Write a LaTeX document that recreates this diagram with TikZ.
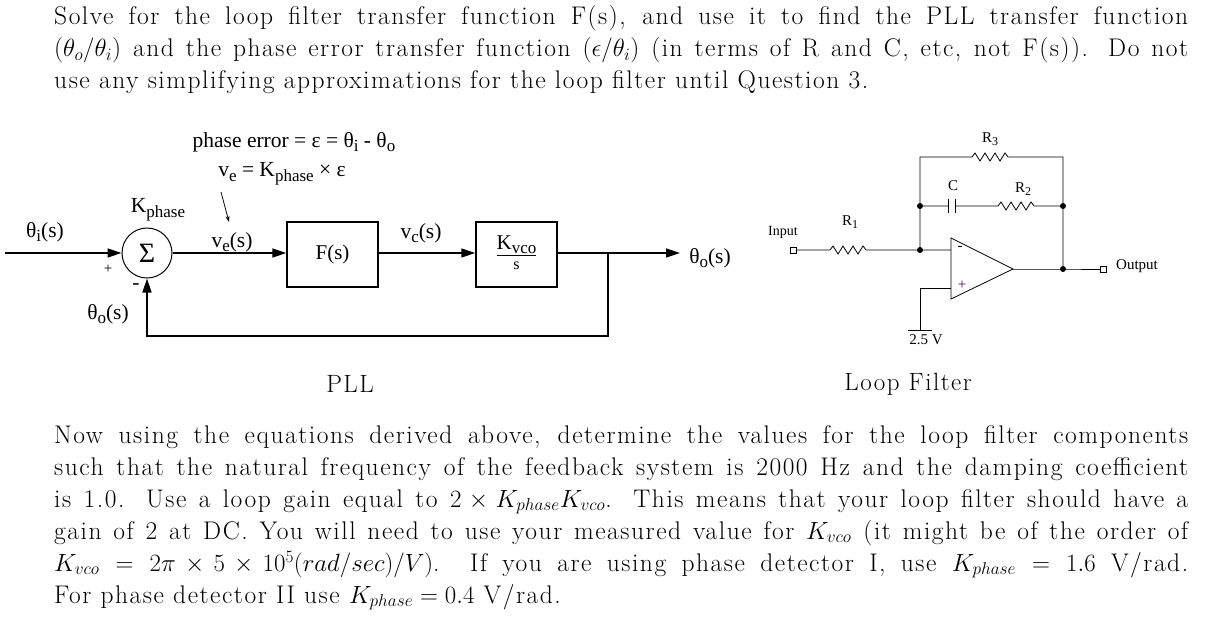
\documentclass[tikz,border=0pt]{standalone}
\usepackage{fontspec}
\newfontfamily\tms{Liberation Serif}
\newfontfamily\lmw{Latin Modern Roman}[LetterSpace=6]
\usetikzlibrary{arrows.meta}
\newcommand{\sbs}[1]{\raisebox{-4.5pt}{\fontsize{17}{17}\selectfont #1}}
\begin{document}
\begin{tikzpicture}[x=1pt,y=-1pt,
  lbl/.style={font=\tms\fontsize{21.5}{24}\selectfont,inner sep=0pt},
  sml/.style={font=\tms\fontsize{15}{18}\selectfont,inner sep=0pt},
  blk/.style={draw,line width=1.5pt,minimum width=91pt,minimum height=65pt,font=\tms\fontsize{21}{24}\selectfont},
  sig/.style={-{Triangle[length=14pt,width=9pt]},line width=1.5pt},
  wire/.style={line width=0.8pt},
  dot/.style={circle,fill,inner sep=0pt,minimum size=6pt},
  term/.style={draw,inner sep=0pt,minimum size=6pt,fill=white,line width=0.7pt},
  para/.style={text width=1134pt,align=justify,inner sep=0pt,anchor=north west,font=\lmw\fontsize{25.5}{32}\selectfont}]
\useasboundingbox (0,0) rectangle (1205,627);
% top paragraph
\node[para] (ptop) at (54,5) {Solve for the loop filter transfer function F(s), and use it to find the PLL transfer function\linebreak ($\theta_o/\theta_i$) and the phase error transfer function ($\epsilon/\theta_i$) (in terms of R and C, etc, not F(s)). Do not\linebreak use any simplifying approximations for the loop filter until Question 3.};
% PLL
\coordinate (in) at (5,253);
\node[draw,circle,line width=1pt,minimum size=50pt,inner sep=0pt,font=\tms\fontsize{28}{28}\selectfont] (sum) at (147,253) {Σ};
\node[blk] (F) at (332.5,254.5) {F(s)};
\node[blk,minimum width=81pt] (K) at (516.5,254.5) {\begin{tabular}{@{}c@{}}\underline{K\sbs{vco}}\\[-4pt]\fontsize{16}{16}\selectfont s\end{tabular}};
\coordinate (out) at (680,253);
\coordinate (fb1) at (608,253);
\coordinate (fb2) at (608,336);
\coordinate (fb3) at (147,336);
\draw[sig] (in) -- (sum);
\draw[sig] (sum) -- (F.west|-sum);
\draw[sig] (F.east|-sum) -- (K.west|-sum);
\draw[sig] (K.east|-sum) -- (out);
\draw[sig] (fb1) -- (fb2) -- (fb3) -- (sum.south);
\node[lbl] (ti) at (45,232) {θ\sbs{i}(s)};
\node[sml] (plus) at (108,269) {+};
\node[lbl] (minus) at (136,287) {-};
\node[lbl] (kp) at (158,210) {K\sbs{phase}};
\node[lbl] (ve) at (232,242) {v\sbs{e}(s)};
\node[lbl] (vc) at (421,233) {v\sbs{c}(s)};
\node[lbl] (to) at (710,258) {θ\sbs{o}(s)};
\node[lbl] (to2) at (108,314) {θ\sbs{o}(s)};
\node[lbl] (pe) at (294,142) {phase error = ε = θ\sbs{i} - θ\sbs{o}};
\node[lbl] (veq) at (282,174) {v\sbs{e} = K\sbs{phase} × ε};
\coordinate (a1) at (221,192);
\coordinate (a2) at (229,222);
\draw[-{Stealth[length=6pt,width=4pt]},wire] (a1) -- (a2);
\node[font=\lmw\fontsize{25}{26}\selectfont] (pll) at (350,384) {PLL};
\node[font=\lmw\fontsize{25}{26}\selectfont] (lf) at (908,384) {Loop Filter};
% Loop filter
\node[term] (inp) at (793,250) {};
\node[sml,font=\tms\fontsize{14}{16}\selectfont] (inl) at (783,232) {Input};
\coordinate (n1) at (920,250);
\coordinate (n2) at (920,206);
\coordinate (n3) at (920,157);
\coordinate (m3) at (1063,157);
\coordinate (m2) at (1063,206);
\coordinate (m1) at (1063,269);
\node[term] (outp) at (1103,269) {};
\node[sml,font=\tms\fontsize{15}{16}\selectfont,anchor=west] (outl) at (1116,266) {Output};
\coordinate (oa1) at (951,238);
\coordinate (oa2) at (951,299);
\coordinate (tip) at (1013,269);
\draw[wire] (oa1) -- (oa2) -- (tip) -- cycle;
\node[sml] (om) at (960,248) {-};
\node[sml,text=violet!70!black] (op) at (962,285) {+};
% R1
\draw[wire] (inp) -- (830,250) -- (833,246) -- (838,254) -- (843,246) -- (848,254) -- (853,246) -- (858,254) -- (863,246) -- (866,250) -- (n1) -- (951,250);
\node[sml] (r1l) at (850,222) {R\raisebox{-3pt}{\fontsize{12}{12}\selectfont 1}};
% R3
\draw[wire] (n1) -- (n3) -- (972,157) -- (975,153) -- (980,161) -- (985,153) -- (990,161) -- (995,153) -- (1000,161) -- (1005,153) -- (1008,157) -- (m3) -- (m1);
\node[sml] (r3l) at (990,139) {R\raisebox{-3pt}{\fontsize{12}{12}\selectfont 3}};
% C and R2
\draw[wire] (n2) -- (948,206) (955,206) -- (998,206) -- (1001,202) -- (1006,210) -- (1011,202) -- (1016,210) -- (1021,202) -- (1026,210) -- (1031,202) -- (1034,206) -- (m2);
\draw[wire] (948,199) -- (948,213) (955,199) -- (955,213);
\node[sml] (cl) at (953,186) {C};
\node[sml] (r2l) at (1023,189) {R\raisebox{-3pt}{\fontsize{12}{12}\selectfont 2}};
\draw[wire] (tip) -- (m1) -- (outp);
\node[dot] at (n1) {};
\node[dot] at (n2) {};
\node[dot] at (m2) {};
\node[dot] at (m1) {};
% ground
\draw[wire] (951,288) -- (920,288) -- (920,330);
\draw[wire] (908,330) -- (932,330);
\node[sml] (gl) at (926,340) {2.5 V};
% bottom paragraph
\node[para] (pbot) at (54,425) {Now using the equations derived above, determine the values for the loop filter components\linebreak such that the natural frequency of the feedback system is 2000 Hz and the damping coefficient\linebreak is 1.0. Use a loop gain equal to $2\times K_{phase}K_{vco}$. This means that your loop filter should have a\linebreak gain of 2 at DC. You will need to use your measured value for $K_{vco}$ (it might be of the order of\linebreak $K_{vco}=2\pi\times5\times10^5(rad/sec)/V)$. If you are using phase detector I, use $K_{phase}=1.6$ V/rad.\linebreak For phase detector II use $K_{phase}=0.4$ V/rad.};
\end{tikzpicture}
\end{document}
